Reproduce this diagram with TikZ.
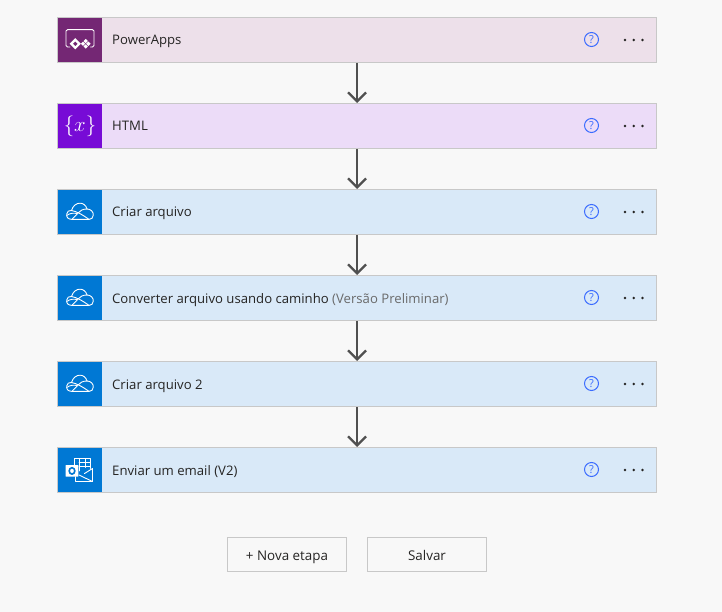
\documentclass[tikz,border=0pt]{standalone}
\usepackage{fontspec}
\setmainfont{Open Sans}
\usetikzlibrary{arrows.meta,positioning}
\definecolor{pagebg}{HTML}{F8F8F8}
\definecolor{edgegray}{HTML}{C8C8C8}
\definecolor{txt}{HTML}{252423}
\definecolor{mutedtxt}{HTML}{6A6A6A}
\definecolor{paFill}{HTML}{EDE0EA}
\definecolor{paIcon}{HTML}{742774}
\definecolor{htFill}{HTML}{ECDCF8}
\definecolor{htIcon}{HTML}{770BD6}
\definecolor{odFill}{HTML}{D9E9F8}
\definecolor{odIcon}{HTML}{0078D4}
\definecolor{qblue}{HTML}{3B6CFF}
\definecolor{arrowgray}{HTML}{505050}
\tikzset{
  x=1pt,y=-1pt,
  card/.style={draw=edgegray,line width=1pt,minimum width=599pt,minimum height=45pt,inner sep=0pt,fill=#1},
  iconbox/.style={minimum width=44pt,minimum height=44pt,inner sep=0pt,fill=#1},
  label/.style={anchor=west,inner sep=0pt,text=txt,text height=10pt,text depth=3pt,font=\fontsize{13.15}{15}\selectfont},
  flow/.style={draw=arrowgray,line width=2.2pt,-{Straight Barb[length=9pt,width=18pt,line width=2.3pt]}},
  btn/.style={draw=edgegray,line width=1pt,minimum width=119pt,minimum height=34.5pt,inner sep=0pt,text=txt,text height=14pt,text depth=3pt,font=\fontsize{13.4}{15}\selectfont},
  iconline/.style={draw=white,line width=.9pt,line join=round,line cap=round},
  pics/helpmark/.style={code={
    \draw[qblue,line width=1pt] (0,0) circle[radius=7];
    \node[text=qblue,inner sep=0pt,font=\fontsize{11}{11}\selectfont] at (0,0) {?};
  }},
  pics/moredots/.style={code={
    \fill[txt] (-8.7,0) circle[radius=1.4] (0,0) circle[radius=1.4] (8.7,0) circle[radius=1.4];
  }},
  pics/cloudicon/.style={code={
    \draw[iconline] (-8,7.4) .. controls (-12,7.4) and (-13.8,5) .. (-13.3,2)
       .. controls (-13,-0.5) and (-11,-2) .. (-8.5,-1.5)
       .. controls (-7,-6.5) and (-3.5,-8.8) .. (0,-8.8)
       .. controls (3.5,-8.8) and (6,-6.5) .. (7,-3)
       .. controls (11,-3) and (13.5,0) .. (13.3,3.2)
       .. controls (13,6) and (11.5,7.4) .. (9,7.4) -- cycle;
    \draw[iconline] (-8.5,-1.5) .. controls (-3,-0.5) and (3,3) .. (9,7.4);
    \draw[iconline] (7,-3) .. controls (3,-3) and (0,-1.5) .. (-2,1);
    \draw[iconline] (-13.3,3.5) .. controls (-10,1) and (-6,0.8) .. (-2.5,1.6) -- (-8,7.4);
  }},
  pics/appsicon/.style={code={
    \draw[iconline] (-10,8) -- (-12.5,8) .. controls (-13.5,8) and (-14,7.3) .. (-14,6.5) -- (-14,-8) .. controls (-14,-8.7) and (-13.5,-9.3) .. (-12.5,-9.3) -- (12.5,-9.3) .. controls (13.5,-9.3) and (14,-8.7) .. (14,-8) -- (14,6.5) .. controls (14,7.3) and (13.5,8) .. (12.5,8) -- (10.5,8);
    \fill[white] (-4.7,-0.8) -- (0.9,4.8) -- (-4.7,10.4) -- (-10.3,4.8) -- cycle;
    \fill[paIcon] (-4.7,2.6) -- (-2.5,4.8) -- (-4.7,7) -- (-6.9,4.8) -- cycle;
    \foreach \p/\q in {5.7/2.1,3/4.8,8.4/4.8,5.7/7.5}
      \fill[white] (\p,\q-2.2) -- (\p+2.2,\q) -- (\p,\q+2.2) -- (\p-2.2,\q) -- cycle;
  }},
  pics/mailicon/.style={code={
    \draw[iconline,line width=.9pt] (-6,-5) -- (-6,-11.5) -- (10.5,-11.5) -- (10.5,-1.5);
    \draw[iconline,line width=.8pt] (-1,-11.5) -- (-1,1) (5,-11.5) -- (5,-2.5) (-1,-7.7) -- (10.5,-7.7) (-1,-3.5) -- (10.5,-3.5);
    \draw[iconline,line width=.9pt] (-5,6.7) -- (-5,11.5) -- (12.5,11.5) -- (12.5,-1.5);
    \draw[iconline,line width=.9pt] (-1,5) -- (12.5,11.5) (4.5,3.5) -- (12.5,-1.5);
    \fill[white,rounded corners=.5pt] (-14.3,-5) rectangle (-1.7,6.7);
    \draw[odIcon,line width=1.6pt] (-8,0.9) ellipse[x radius=2.8,y radius=3.2];
  }},
}
\begin{document}
\begin{tikzpicture}
\useasboundingbox[fill=pagebg] (0,0) rectangle (722,612);
% cards
\node[card=paFill] (c1) at (357,40) {};
\node[card=htFill] (c2) at (357,126) {};
\node[card=odFill] (c3) at (357,212) {};
\node[card=odFill] (c4) at (357,298) {};
\node[card=odFill] (c5) at (357,384) {};
\node[card=odFill] (c6) at (357,470) {};
% icon squares
\node[iconbox=paIcon] (i1) at (80,40) {};
\node[iconbox=htIcon] (i2) at (80,126) {};
\node[iconbox=odIcon] (i3) at (80,212) {};
\node[iconbox=odIcon] (i4) at (80,298) {};
\node[iconbox=odIcon] (i5) at (80,384) {};
\node[iconbox=odIcon] (i6) at (80,470) {};
\pic at (80,39) {appsicon};
\node[text=white,inner sep=0pt,font=\fontsize{22}{22}\selectfont] (xsym) at (80,126) {$\{x\}$};
\pic at (80,212) {cloudicon};
\pic at (80,298) {cloudicon};
\pic at (80,384) {cloudicon};
\pic at (80,470) {mailicon};
% labels
\node[label] (t1) at (112,41.5) {PowerApps};
\node[label] (t2) at (112,127.5) {HTML};
\node[label] (t3) at (112,213.5) {Criar arquivo};
\node[label] (t4) at (112,299.5) {Converter arquivo usando caminho \textcolor{mutedtxt}{(Versão Preliminar)}};
\node[label] (t5) at (112,385.5) {Criar arquivo 2};
\node[label] (t6) at (112,471.5) {Enviar um email (V2)};
% help + dots
\foreach \yy in {39.5,125.5,211.5,297.5,383.5,469.5}{
  \pic at (591.5,\yy) {helpmark};
  \pic at (633.7,\yy+0.5) {moredots};
}
% connectors
\draw[flow] (c1.south) -- (c2.north);
\draw[flow] (c2.south) -- (c3.north);
\draw[flow] (c3.south) -- (c4.north);
\draw[flow] (c4.south) -- (c5.north);
\draw[flow] (c5.south) -- (c6.north);
% buttons
\node[btn] (b1) at (287,554.5) {+ Nova etapa};
\node[btn] (b2) at (427,554.5) {Salvar};
\end{tikzpicture}
\end{document}
